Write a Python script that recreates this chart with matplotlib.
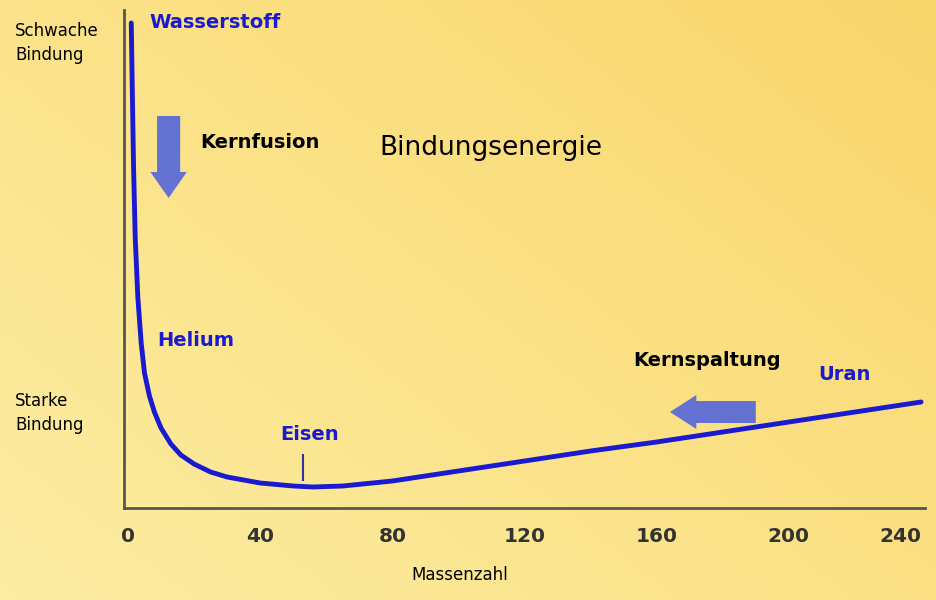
import numpy as np
import matplotlib.pyplot as plt
from matplotlib.patches import FancyArrow

# Massenzahl vs. relative Bindungsstaerke (hoeher = schwaecher gebunden)
mass = [1, 1.3, 1.7, 2.2, 3, 4, 5, 6.5, 8, 10, 13, 16, 20, 25, 30, 40, 50, 56,
        65, 80, 100, 120, 140, 160, 180, 200, 220, 240]
bind = [485, 420, 340, 270, 210, 165, 135, 112, 96, 80, 64, 53, 44, 36, 31, 25,
        22, 21, 22, 27, 37, 47, 57, 66, 76, 86, 96, 106]
xticks = [0, 40, 80, 120, 160, 200, 240]

fig = plt.figure(figsize=(9.37, 6.0), dpi=100)

# background gradient
bg = fig.add_axes([0, 0, 1, 1])
gx, gy = np.meshgrid(np.linspace(0, 1, 200), np.linspace(0, 1, 200))
g = np.clip(0.55 * gx + 0.45 * (1 - gy), 0, 1)
c1 = np.array([0.99, 0.93, 0.64])
c2 = np.array([0.98, 0.84, 0.42])
img = c1 + (c2 - c1) * g[..., None]
bg.imshow(img, extent=[0, 1, 0, 1], aspect='auto', origin='upper')
bg.axis('off')

ax = fig.add_axes([124 / 937, 92 / 600, 801 / 937, 498 / 600])
ax.patch.set_alpha(0)
ax.plot(mass, bind, color='#1a1ad0', lw=3.5, solid_capstyle='round')
ax.set_xlim(-1.2, 241.2)
ax.set_ylim(0, 498)
for s in ['top', 'right']:
    ax.spines[s].set_visible(False)
for s in ['left', 'bottom']:
    ax.spines[s].set_color('#555555')
    ax.spines[s].set_linewidth(2)
ax.set_yticks([])
ax.set_xticks(xticks)
ax.set_xticklabels([str(t) for t in xticks], fontsize=14.5, fontweight='bold', color='#333333')
ax.tick_params(axis='x', length=0, pad=14)
ax.get_xticklabels()[-1].set_horizontalalignment('right')
ax.get_xticklabels()[-1].set_x(242.5)

blue = '#1a1ad0'
ax.text(6.5, 485, 'Wasserstoff', color=blue, fontsize=14, fontweight='bold', va='center')
ax.text(9, 168, 'Helium', color=blue, fontsize=14, fontweight='bold', va='center')
ax.text(46, 74, 'Eisen', color=blue, fontsize=14, fontweight='bold', va='center')
ax.text(209, 134, 'Uran', color=blue, fontsize=14, fontweight='bold', va='center')
ax.plot([53, 53], [28, 53], color='#333399', lw=1.5)
ax.text(22, 366, 'Kernfusion', color='black', fontsize=14, fontweight='bold', va='center')
ax.text(153, 148, 'Kernspaltung', color='black', fontsize=14, fontweight='bold', va='center')
ax.text(76, 360, 'Bindungsenergie', color='black', fontsize=19, va='center')

ax.add_patch(FancyArrow(12.3, 392, 0, -82, width=7, head_width=11, head_length=26,
                        length_includes_head=True, color='#4a5ee0', alpha=0.85, lw=0))
ax.add_patch(FancyArrow(190, 96, -26, 0, width=22, head_width=34, head_length=8,
                        length_includes_head=True, color='#4a5ee0', alpha=0.85, lw=0))

fig.text(15 / 937, 1 - 22 / 600, 'Schwache\nBindung', fontsize=12, va='top', linespacing=1.4)
fig.text(15 / 937, 1 - 392 / 600, 'Starke\nBindung', fontsize=12, va='top', linespacing=1.4)
fig.text(460 / 937, 1 - 575 / 600, 'Massenzahl', fontsize=12, ha='center', va='center')

fig.savefig('out.png', dpi=100)
